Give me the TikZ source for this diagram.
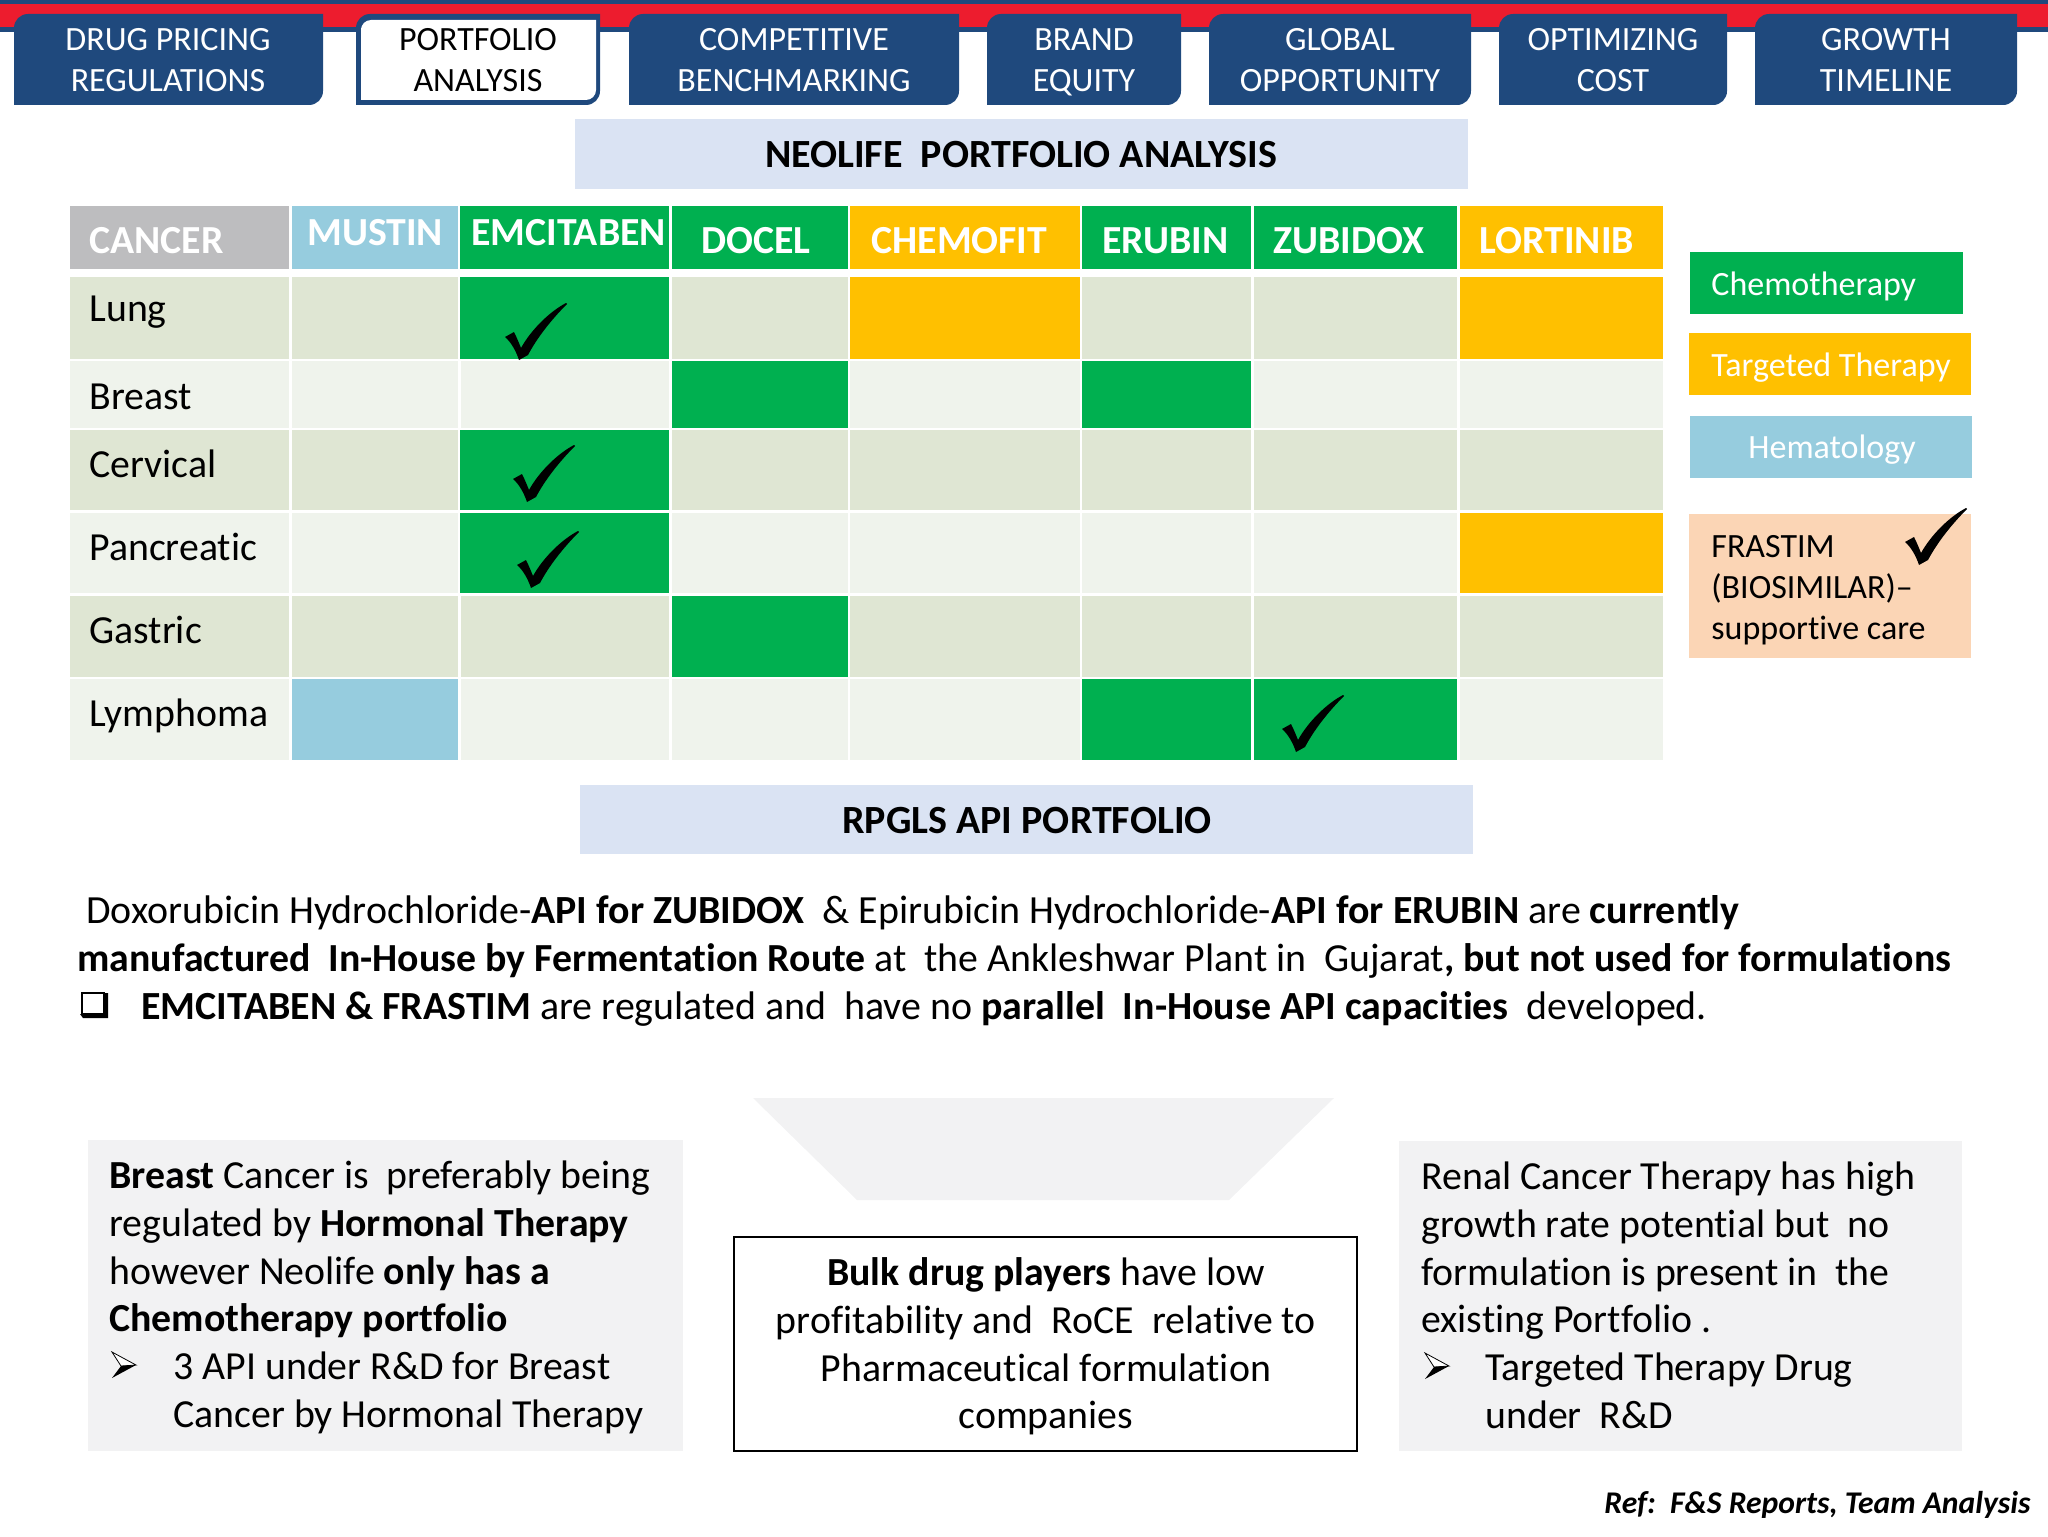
\documentclass[tikz,border=0pt]{standalone}
\usepackage{fontspec}
\setmainfont{Carlito}[Ligatures=CommonOff]
\usetikzlibrary{positioning}

\definecolor{tabblue}{HTML}{1F497D}
\definecolor{topred}{HTML}{ED1C2E}
\definecolor{bandblue}{HTML}{DAE3F3}
\definecolor{chemogreen}{HTML}{00B050}
\definecolor{targetyellow}{HTML}{FFC000}
\definecolor{hemablue}{HTML}{96CCDE}
\definecolor{peach}{HTML}{FBD5B5}
\definecolor{headgray}{HTML}{BDBDBF}
\definecolor{rowdark}{HTML}{DFE6D3}
\definecolor{rowlight}{HTML}{EFF3EC}
\definecolor{boxgray}{HTML}{F2F2F3}

\tikzset{
  tablabel/.style={align=center, text=white, font=\fontsize{17}{20.5}\selectfont},
  bandlabel/.style={font=\fontsize{20}{24}\selectfont\bfseries},
  headlabel/.style={anchor=base west, inner sep=0pt, text=white, font=\fontsize{19.9}{24}\selectfont\bfseries},
  rowlabel/.style={anchor=base west, inner sep=0pt, font=\fontsize{19.9}{24}\selectfont},
  keylabel/.style={anchor=base west, inner sep=0pt, font=\fontsize{17}{20.5}\selectfont},
  bodyline/.style={anchor=base west, inner sep=0pt, font=\fontsize{19.9}{24}\selectfont},
  midline/.style={anchor=base, inner sep=0pt, font=\fontsize{19.9}{24}\selectfont},
}

\newcommand{\tabshape}[3]{\fill[#3] (#1,105) -- (#1,26) [rounded corners=7pt] -- (#1,14) [sharp corners] -- (#2,14) [rounded corners=7pt] -- (#2,105) [sharp corners] -- cycle;}
\newcommand{\tickmark}[1]{\fill[black, shift={(#1)}] (-14,-23) .. controls (-10,-26) .. (-5,-28) .. controls (-2,-22) and (0,-17) .. (2,-12) .. controls (12,-30) and (30,-48) .. (47,-57) -- (48,-56) .. controls (32,-40) and (18,-22) .. (9,-5) -- (0,0) .. controls (-3,-9) and (-8,-18) .. (-14,-23) -- cycle;}
\newcommand{\arrowbullet}[1]{\draw[black, line width=0.4pt, fill=white, shift={(#1)}] (0,0) -- (-24,-13) -- (-15,1) -- cycle; \fill[black, shift={(#1)}] (0,0) -- (-15,1) -- (-24,13) -- cycle;}

\begin{document}
\begin{tikzpicture}[x=0.5pt, y=-0.5pt]
  \useasboundingbox (0,0) rectangle (2048,1536);

  % top strip
  \fill[tabblue] (0,0) rectangle (2048,4);
  \fill[topred] (0,4) rectangle (2048,27);
  \fill[tabblue] (0,27) rectangle (2048,32);

  \tabshape{14}{323}{tabblue}
  \tabshape{356}{600}{tabblue}
  \tabshape{629}{959}{tabblue}
  \tabshape{987}{1181}{tabblue}
  \tabshape{1209}{1471}{tabblue}
  \tabshape{1499}{1727}{tabblue}
  \tabshape{1755}{2017}{tabblue}
  \fill[white] (361,100) -- (361,28) [rounded corners=5pt] -- (361,20) [sharp corners] -- (596,20) [rounded corners=5pt] -- (596,100) [sharp corners] -- cycle;
  \node[tablabel] (tab1) at (168,60) {DRUG PRICING\\REGULATIONS};
  \node[tablabel, text=black] (tab2) at (478,60) {PORTFOLIO\\ANALYSIS};
  \node[tablabel] (tab3) at (794,60) {COMPETITIVE\\BENCHMARKING};
  \node[tablabel] (tab4) at (1084,62) {BRAND\\EQUITY};
  \node[tablabel] (tab5) at (1340,60) {GLOBAL\\OPPORTUNITY};
  \node[tablabel] (tab6) at (1613,60) {OPTIMIZING\\COST};
  \node[tablabel] (tab7) at (1886,60) {GROWTH\\TIMELINE};

  \fill[bandblue] (575,119) rectangle (1468,189);
  \node[bandlabel] (title) at (1021,155) {NEOLIFE\ \ PORTFOLIO ANALYSIS};

  % header row
  \fill[headgray] (70,206) rectangle (289,269);
  \fill[hemablue] (292,206) rectangle (458,269);
  \fill[chemogreen] (460,206) rectangle (669,269);
  \fill[chemogreen] (672,206) rectangle (848,269);
  \fill[targetyellow] (850,206) rectangle (1080,269);
  \fill[chemogreen] (1082,206) rectangle (1251,269);
  \fill[chemogreen] (1254,206) rectangle (1457,269);
  \fill[targetyellow] (1460,206) rectangle (1663,269);
  \node[headlabel] (cancer) at (89,253) {CANCER};
  \node[headlabel] (mustin) at (307,245) {MUSTIN};
  \node[headlabel] (emcitaben) at (471,245) {EMCITABEN};
  \node[headlabel] (docel) at (701,253) {DOCEL};
  \node[headlabel] (chemofit) at (871,253) {CHEMOFIT};
  \node[headlabel] (erubin) at (1102,253) {ERUBIN};
  \node[headlabel] (zubidox) at (1273,253) {ZUBIDOX};
  \node[headlabel] (lortinib) at (1479,253) {LORTINIB};

  % table body
  \fill[rowdark] (70,277) rectangle (1663,359);
  \fill[rowlight] (70,361) rectangle (1663,428);
  \fill[rowdark] (70,430) rectangle (1663,510);
  \fill[rowlight] (70,513) rectangle (1663,593);
  \fill[rowdark] (70,596) rectangle (1663,677);
  \fill[rowlight] (70,679) rectangle (1663,760);
  \draw[white, line width=1.25pt] (290.5,277) -- (290.5,760);
  \draw[white, line width=1.25pt] (459.5,277) -- (459.5,760);
  \draw[white, line width=1.25pt] (670.5,277) -- (670.5,760);
  \draw[white, line width=1.25pt] (849,277) -- (849,760);
  \draw[white, line width=1.25pt] (1081,277) -- (1081,760);
  \draw[white, line width=1.25pt] (1252.5,277) -- (1252.5,760);
  \draw[white, line width=1.25pt] (1458.5,277) -- (1458.5,760);

  \fill[chemogreen] (460,277) rectangle (669,359);
  \fill[targetyellow] (850,277) rectangle (1080,359);
  \fill[targetyellow] (1460,277) rectangle (1663,359);
  \fill[chemogreen] (672,361) rectangle (848,428);
  \fill[chemogreen] (1082,361) rectangle (1251,428);
  \fill[chemogreen] (460,430) rectangle (669,510);
  \fill[chemogreen] (460,513) rectangle (669,593);
  \fill[targetyellow] (1460,513) rectangle (1663,593);
  \fill[chemogreen] (672,596) rectangle (848,677);
  \fill[hemablue] (292,679) rectangle (458,760);
  \fill[chemogreen] (1082,679) rectangle (1251,760);
  \fill[chemogreen] (1254,679) rectangle (1457,760);

  \node[rowlabel] (lung) at (89,321) {Lung};
  \node[rowlabel] (breast) at (89,409) {Breast};
  \node[rowlabel] (cervical) at (89,477) {Cervical};
  \node[rowlabel] (pancreatic) at (89,560) {Pancreatic};
  \node[rowlabel] (gastric) at (89,643) {Gastric};
  \node[rowlabel] (lymphoma) at (89,726) {Lymphoma};

  \tickmark{519,360}
  \tickmark{527,502}
  \tickmark{531,588}
  \tickmark{1296,752}

  % key
  \fill[chemogreen] (1690,252) rectangle (1963,314);
  \fill[targetyellow] (1689,333) rectangle (1971,395);
  \fill[hemablue] (1690,416) rectangle (1972,478);
  \fill[peach] (1689,514) rectangle (1971,658);
  \node[keylabel, text=white] (keychemo) at (1711,295) {Chemotherapy};
  \node[keylabel, text=white] (keytarget) at (1711,376) {Targeted Therapy};
  \node[keylabel, text=white] (keyhema) at (1748,458) {Hematology};
  \node[keylabel] (frastim1) at (1711,557) {FRASTIM};
  \node[keylabel] (frastim2) at (1711,598) {(BIOSIMILAR)--};
  \node[keylabel] (frastim3) at (1711,639) {supportive care};
  \tickmark{1919,565}

  % API text
  \fill[bandblue] (580,785) rectangle (1473,854);
  \node[bandlabel] (apititle) at (1027,821) {RPGLS API PORTFOLIO};
  \node[bodyline, font=\fontsize{19.96}{24}\selectfont] (api1) at (86,923) {Doxorubicin Hydrochloride-\textbf{API for ZUBIDOX}\ \ \& Epirubicin Hydrochloride-\textbf{API for ERUBIN} are \textbf{currently}};
  \node[bodyline] (api2) at (77,971) {\textbf{manufactured\ \ In-House by Fermentation Route} at\ \ the Ankleshwar Plant in\ \ Gujarat\textbf{, but not used for formulations}};
  \draw[black, line width=1.4pt] (82,993) rectangle (104,1014);
  \fill[black] (80,1014) -- (104,1014) -- (104,993) -- (108,993) -- (108,1018) -- (83,1018) -- cycle;
  \node[bodyline, font=\fontsize{19.95}{24}\selectfont] (api3) at (141,1019) {\textbf{EMCITABEN \& FRASTIM} are regulated and\ \ have no \textbf{parallel\ \ In-House API capacities}\ \ developed.};

  % bottom boxes
  \fill[boxgray] (753,1098) -- (1334,1098) -- (1229,1200) -- (857,1200) -- cycle;
  \fill[boxgray] (88,1140) rectangle (683,1451);
  \node[bodyline] (left1) at (109,1188) {\textbf{Breast} Cancer is\ \ preferably being};
  \node[bodyline] (left2) at (109,1236) {regulated by \textbf{Hormonal Therapy}};
  \node[bodyline] (left3) at (109,1284) {however Neolife \textbf{only has a}};
  \node[bodyline] (left4) at (109,1331) {\textbf{Chemotherapy portfolio}};
  \arrowbullet{136,1365}
  \node[bodyline] (left5) at (173,1379) {3 API under R\&D for Breast};
  \node[bodyline] (left6) at (173,1427) {Cancer by Hormonal Therapy};

  \draw[black, line width=1pt] (734,1237) rectangle (1357,1451);
  \node[midline] (mid1) at (1046,1285) {\textbf{Bulk drug players} have low};
  \node[midline] (mid2) at (1046,1333) {profitability and\ \ RoCE\ \ relative to};
  \node[midline] (mid3) at (1046,1381) {Pharmaceutical formulation};
  \node[midline] (mid4) at (1046,1428) {companies};

  \fill[boxgray] (1399,1141) rectangle (1962,1451);
  \node[bodyline] (right1) at (1421,1189) {Renal Cancer Therapy has high};
  \node[bodyline] (right2) at (1421,1237) {growth rate potential but\ \ no};
  \node[bodyline] (right3) at (1421,1285) {formulation is present in\ \ the};
  \node[bodyline] (right4) at (1421,1332) {existing Portfolio .};
  \arrowbullet{1449,1366}
  \node[bodyline] (right5) at (1485,1380) {Targeted Therapy Drug};
  \node[bodyline] (right6) at (1485,1428) {under\ \ R\&D};

  \node[anchor=base east, inner sep=0pt, font=\fontsize{15.8}{19}\selectfont\bfseries\itshape] (reflabel) at (2031,1513) {Ref:\ \ F\&S Reports, Team Analysis};
\end{tikzpicture}
\end{document}
